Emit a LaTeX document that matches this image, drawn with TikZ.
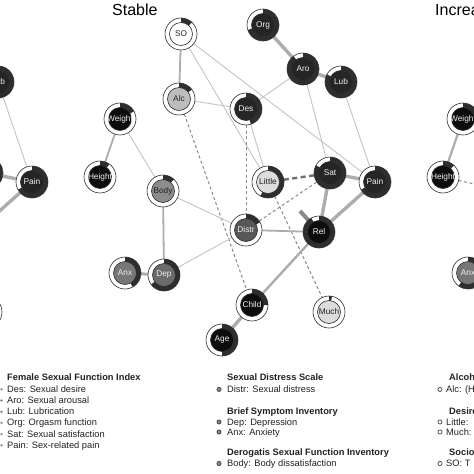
\documentclass[tikz,border=0pt]{standalone}
\usepackage{fontspec}
\setmainfont{Liberation Sans}
\usetikzlibrary{backgrounds}
\definecolor{ringc}{HTML}{2E2E2E}
\definecolor{dkf}{HTML}{252525}
\definecolor{blk}{HTML}{0D0D0D}
\definecolor{ltf}{HTML}{DCDCDC}
\definecolor{alcf}{HTML}{BDBDBD}
\definecolor{bodyf}{HTML}{8C8C8C}
\definecolor{anxf}{HTML}{777777}
\definecolor{depf}{HTML}{6B6B6B}
\definecolor{distrf}{HTML}{575757}
\definecolor{txtd}{HTML}{222222}
\definecolor{txtl}{HTML}{F0F0F0}
\definecolor{edgel}{HTML}{C4C4C4}
\definecolor{edgem}{HTML}{ADADAD}
\definecolor{edged}{HTML}{8A8A8A}
\definecolor{edgedd}{HTML}{6E6E6E}
\definecolor{bul}{HTML}{8A8A8A}
\tikzset{
 pn/.style n args={3}{circle, minimum size=32pt, inner sep=0pt, outer sep=0pt,
   fill=white, draw=ringc, line width=0.6pt, text=#2,
   font=\fontsize{8.3}{9}\selectfont,
   path picture={
     \fill[ringc] (path picture bounding box.center) -- ++(90:16pt)
        arc[start angle=90, end angle={90-360*#3}, radius=16pt] -- cycle;
     \filldraw[fill=#1, draw=ringc, line width=0.6pt] (path picture bounding box.center) circle[radius=11.5pt];
   }},
 ethin/.style={draw=edgel, line width=0.9pt},
 emed/.style={draw=edgem, line width=1.8pt},
 ethick/.style={draw=edgem, line width=3.4pt},
 edash/.style={draw=edged, line width=1pt, dash pattern=on 3pt off 2.5pt},
 edashk/.style={draw=edgedd, line width=2.4pt, dash pattern=on 5pt off 3.5pt},
 lt/.style={anchor=base west, inner sep=0pt, text=txtd, font=\fontsize{9.3}{11}\selectfont},
 lh/.style={lt, font=\fontsize{9.3}{11}\selectfont\bfseries},
 ttl/.style={anchor=base west, inner sep=0pt, font=\fontsize{16}{18}\selectfont},
}
\begin{document}
\begin{tikzpicture}[x=1pt, y=-1pt]
\useasboundingbox (0,0) rectangle (474,474);
\begin{scope}[on background layer]
\fill[white] (0,0) rectangle (474,474);
\end{scope}
\clip (0,0) rectangle (474,474);

% titles
\node[ttl] (tstable) at (112,15) {Stable};
\node[ttl] (tincr) at (435,15) {Increa};

% middle panel nodes
\node[pn={white}{txtd}{0.12}] (SO) at (181,34) {SO};
\node[pn={dkf}{txtl}{0.70}] (Org) at (263,25) {Org};
\node[pn={dkf}{txtl}{0.90}] (Aro) at (303,69) {Aro};
\node[pn={dkf}{txtl}{0.83}] (Lub) at (341,82) {Lub};
\node[pn={alcf}{txtd}{0.15}] (Alc) at (179,99) {Alc};
\node[pn={dkf}{txtl}{0.45}] (Des) at (246,109) {Des};
\node[pn={blk}{txtl}{0.17}] (Weight) at (120,119) {Weight};
\node[pn={blk}{txtl}{0.10}] (Height) at (100,177) {Height};
\node[pn={bodyf}{txtd}{0.12}] (Body) at (163,191) {Body};
\node[pn={ltf}{txtd}{0.58}] (Little) at (268,182) {Little};
\node[pn={dkf}{txtl}{0.83}] (Sat) at (330,173) {Sat};
\node[pn={dkf}{txtl}{0.67}] (Pain) at (375,182) {Pain};
\node[pn={distrf}{txtl}{0.17}] (Distr) at (246,230) {Distr};
\node[pn={blk}{txtl}{0.92}] (Rel) at (319,232) {Rel};
\node[pn={anxf}{txtl}{0.42}] (Anx) at (125,273) {Anx};
\node[pn={depf}{txtl}{0.65}] (Dep) at (164,275) {Dep};
\node[pn={blk}{txtl}{0.25}] (Child) at (252,305) {Child};
\node[pn={blk}{txtl}{0.50}] (Age) at (222,340) {Age};
\node[pn={ltf}{txtd}{0.03}] (Much) at (329,312) {Much};
\coordinate (relstub) at (300,211);

% left panel (partly visible)
\node[pn={dkf}{txtl}{0.85}] (LubL) at (-2,82) {Lub};
\node[pn={dkf}{txtl}{0.85}] (SatL) at (-13,173) {Sat};
\node[pn={dkf}{txtl}{0.67}] (PainL) at (32,182) {Pain};
\node[pn={blk}{txtl}{0.92}] (RelL) at (-24,232) {Rel};
\node[pn={ltf}{txtd}{0.05}] (MuchL) at (-14,312) {Much};

% right panel (partly visible)
\node[pn={blk}{txtl}{0.20}] (WeightR) at (463,119) {Weight};
\node[pn={blk}{txtl}{0.12}] (HeightR) at (443,177) {Height};
\node[pn={anxf}{txtl}{0.60}] (AnxR) at (468,273) {Anx};
\node[pn={bodyf}{txtd}{0.12}] (BodyR) at (506,191) {Body};

\begin{scope}[on background layer]
\draw[emed] (SO) -- (Alc);
\draw[ethin] (SO) -- (Pain);
\draw[ethin] (SO) -- (Little);
\draw[ethin] (Alc) -- (Des);
\draw[edash] (Alc) -- (Child);
\draw[ethin] (Des) -- (Aro);
\draw[ethin] (Des) -- (Little);
\draw[edash] (Des) -- (Distr);
\draw[ethick] (Org) -- (Aro);
\draw[ethick] (Aro) -- (Lub);
\draw[ethin] (Aro) -- (Sat);
\draw[ethin] (Lub) -- (Pain);
\draw[ethick] (Sat) -- (Pain);
\draw[ethick] (Sat) -- (Rel);
\draw[ethick] (Pain) -- (Rel);
\draw[edashk] (Little) -- (Sat);
\draw[edash] (Distr) -- (Sat);
\draw[edash] (Little) -- (Much);
\draw[emed] (Distr) -- (Rel);
\draw[emed, line width=2.4pt] (Rel) -- (Child);
\draw[draw=edged, line width=4pt] (Rel) -- (relstub);
\draw[ethin] (Body) -- (Distr);
\draw[emed] (Body) -- (Dep);
\draw[ethin] (Weight) -- (Body);
\draw[emed] (Weight) -- (Height);
\draw[ethin] (Dep) -- (Distr);
\draw[ethick, line width=3pt] (Dep) -- (Anx);
\draw[ethick] (Child) -- (Age);
% left
\draw[ethin] (LubL) -- (PainL);
\draw[ethick] (SatL) -- (PainL);
\draw[ethick] (PainL) -- (RelL);
% right
\draw[emed, line width=2.2pt] (WeightR) -- (HeightR);
\draw[edash] (HeightR) -- (BodyR);
\end{scope}

% legend column 1
\node[lh] (c1h) at (7,380.4) {Female Sexual Function Index};
\node[lt] (c1a) at (7,392.3) {Des: Sexual desire};
\node[lt] (c1b) at (7,403.5) {Aro: Sexual arousal};
\node[lt] (c1c) at (7,414.7) {Lub: Lubrication};
\node[lt] (c1d) at (7,425.9) {Org: Orgasm function};
\node[lt] (c1e) at (7,437.1) {Sat: Sexual satisfaction};
\node[lt] (c1f) at (7,448.3) {Pain: Sex-related pain};
\foreach \yy in {389.3,400.5,411.7,422.9,434.1,445.3}
  \fill[bul] (1.5,\yy) circle[radius=1.3pt];

% legend column 2
\node[lh] (c2h) at (227,380.5) {Sexual Distress Scale};
\node[lt] (c2a) at (227,392.4) {Distr: Sexual distress};
\node[lh] (c2i) at (227,414.0) {Brief Symptom Inventory};
\node[lt] (c2b) at (227,425.0) {Dep: Depression};
\node[lt] (c2c) at (227,435.0) {Anx: Anxiety};
\node[lh] (c2j) at (227,455.6) {Derogatis Sexual Function Inventory};
\node[lt] (c2d) at (227,466.5) {Body: Body dissatisfaction};
\foreach \yy in {389.4,422.0,432.0,463.5}
  \filldraw[fill=bul, draw=ringc, line width=0.6pt] (219,\yy) circle[radius=2.1pt];

% legend column 3
\node[lh] (c3h) at (449,380.5) {Alcoh};
\node[lt] (c3a) at (446,392.4) {Alc: (H};
\node[lh] (c3i) at (449,414.0) {Desire};
\node[lt] (c3b) at (446,425.0) {Little:};
\node[lt] (c3c) at (446,435.0) {Much:};
\node[lh] (c3j) at (449,455.6) {Socio};
\node[lt] (c3d) at (446,466.5) {SO: T};
\foreach \yy in {389.4,422.0,432.0,463.5}
  \filldraw[fill=white, draw=ringc, line width=0.6pt] (440,\yy) circle[radius=2.1pt];
\end{tikzpicture}
\end{document}
